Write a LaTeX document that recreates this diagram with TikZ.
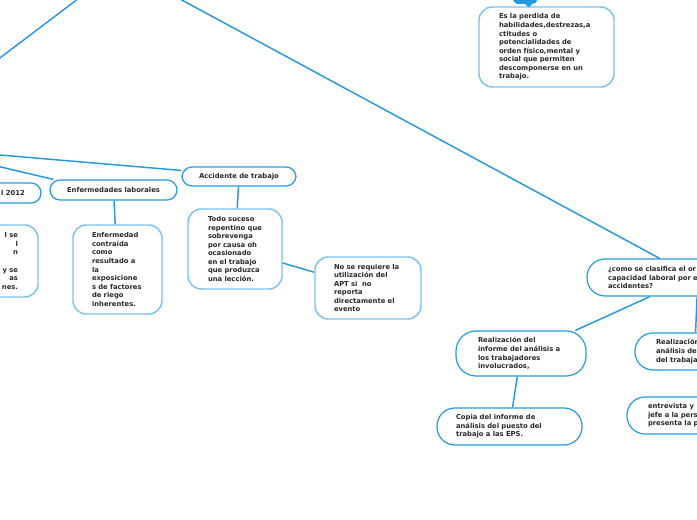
\documentclass[tikz,border=0pt]{standalone}
\usepackage{fontspec}
\setmainfont{DejaVu Sans}
\definecolor{linkblue}{RGB}{38,153,222}
\definecolor{cardblue}{RGB}{122,194,238}
\definecolor{inktext}{RGB}{40,40,40}
\tikzset{every picture/.style={line width=0.75pt}}
\tikzset{
  maptext/.style={font=\bfseries\fontsize{5.1}{6.4}\selectfont, text=inktext},
  card/.style={maptext, draw=cardblue, line width=1.1pt, rounded corners=10pt, align=left, inner ysep=0pt, minimum height=#1},
  pill/.style={maptext, draw=linkblue, line width=0.9pt, rounded corners=#1, inner ysep=0pt},
  link/.style={draw=linkblue, line width=1.1pt}
}

\begin{document}
\begin{tikzpicture}[x=0.75pt,y=0.75pt,yscale=-1,xscale=1]
\useasboundingbox (0,0) rectangle (697,520);
\clip (0,0) rectangle (697,520);

%Free ends of links coming from outside
\coordinate (offtl) at (-12,67);
\coordinate (offtr) at (87,-8);
\coordinate (offtop) at (167,-8);
\coordinate (offa) at (-12,154);
\coordinate (offb) at (-12,164);

%Bubble tail at the top
\fill[linkblue] (513,-2) -- (513,0) .. controls (514,3) and (516,4) .. (520,4) -- (525,4) -- (529,8) -- (532,4) .. controls (535,4) and (537,2) .. (537,0) -- (537,-2) -- cycle ;

%Rounded Rect: Es la perdida
\node[card=60pt, text width=71.25pt, inner xsep=15pt] (perdida) at (546.5,47) {Es la perdida de\\habilidades,destrezas,a\\ctitudes o\\potencialidades de\\orden físico,mental y\\social que permiten\\descomponerse en un\\trabajo.};

%Rounded Rect: cut at the left
\node[card=54pt, text width=54pt, inner xsep=15pt, align=right] (leftcard) at (-18,261) {l se\\l\hspace{6pt}\\n\hspace{6pt}\\\mbox{}\\y se\\as\hspace{1.5pt}\\nes.\hspace{2.25pt}};

%Pills of the first row
\node[pill=7.5pt, minimum width=42pt, minimum height=15pt] (ley) at (13,193) {l 2012};
\node[pill=7.5pt, minimum width=95.25pt, minimum height=15pt] (enferm) at (113.5,190) {Enfermedades laborales};
\node[pill=7.5pt, minimum width=85.5pt, minimum height=14.25pt] (accid) at (239,176.5) {Accidente de trabajo};

%Rounded Rect: definitions
\node[card=66.75pt, text width=38.25pt, inner xsep=14.25pt] (enfcard) at (117.5,269.5) {Enfermedad\\contraída\\como\\resultado a\\la\\exposicione\\s~de~factores\\de riego\\inherentes.};
\node[card=60pt, text width=40.5pt, inner xsep=15pt] (suceso) at (235,249) {Todo suceso\\repentino~que\\sobrevenga\\por causa oh\\ocasionado\\en el trabajo\\que produzca\\una lección.};
\node[card=46.5pt, text width=51pt, inner xsep=14.25pt] (requiere) at (368,288) {No se requiere~la\\utilización del\\APT si~ no\\reporta\\directamente el\\evento};

%Pills on the right
\node[pill=13.5pt, align=left, text width=98.25pt, inner xsep=15.75pt, minimum height=27.75pt] (clasifica) at (673.5,277.5) {¿como se clasifica el or\\capacidad laboral por e\\accidentes?};
\node[pill=15pt, align=left, text width=64.5pt, inner xsep=16.5pt, minimum height=33.75pt] (informe) at (521,353.5) {Realización del\\informe del análisis a\\los trabajadores\\involucrados,};
\node[pill=13.5pt, align=left, text width=80.25pt, inner xsep=14.25pt, minimum height=27.75pt] (copia) at (509.5,426.5) {Copia del informe de\\análisis del puesto del\\trabajo a las EPS.};
\node[pill=13.5pt, align=left, text width=77.25pt, inner xsep=15.75pt, minimum height=27.75pt] (analisis) at (707.5,351.5) {Realización\\análisis de\\del trabaja};
\node[pill=13.5pt, align=left, text width=83.25pt, inner xsep=15.75pt, minimum height=27.75pt] (entrevista) at (703.5,415.5) {entrevista y\\jefe a la pers\\presenta la p};

%Straight Lines
\draw[link] (offtl) -- (offtr) ;
\draw[link] (offtop) -- (clasifica.126) ;
\draw[link] (offa) -- (accid.174) ;
\draw[link] (offb) -- (enferm.170) ;
\draw[link] (enferm) -- (enfcard) ;
\draw[link] (accid) -- (suceso) ;
\draw[link] (suceso) -- (requiere) ;
\draw[link] (clasifica.219) -- (informe.23) ;
\draw[link] (clasifica.321) -- (analisis.122) ;
\draw[link] (informe) -- (copia) ;

\end{tikzpicture}
\end{document}
